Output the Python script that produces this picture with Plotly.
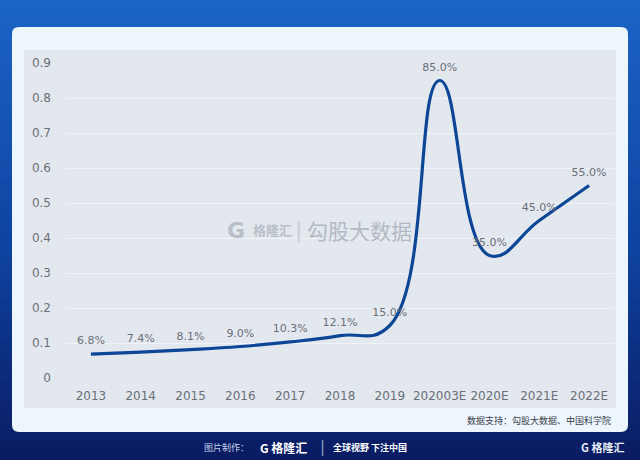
import plotly.graph_objects as go

# ---- data ----
categories = ["2013", "2014", "2015", "2016", "2017", "2018", "2019",
              "202003E", "2020E", "2021E", "2022E"]
values = [0.068, 0.074, 0.081, 0.090, 0.103, 0.121, 0.150, 0.850, 0.350, 0.450, 0.550]
value_labels = ["6.8%", "7.4%", "8.1%", "9.0%", "10.3%", "12.1%", "15.0%",
                "85.0%", "35.0%", "45.0%", "55.0%"]
y_ticks = [0, 0.1, 0.2, 0.3, 0.4, 0.5, 0.6, 0.7, 0.8, 0.9]
y_tick_text = ["0", "0.1", "0.2", "0.3", "0.4", "0.5", "0.6", "0.7", "0.8", "0.9"]

W, H = 640, 460
L, R, T, B = 66, 26, 63, 82
PW = W - L - R
PH = H - T - B


def px(x):
    return (x - L) / PW


def py(y):
    return (H - B - y) / PH


def lerp(c1, c2, t):
    return tuple(int(round(a + (b - a) * t)) for a, b in zip(c1, c2))


shapes = []
# background gradient
top_c, mid_c, bot_c = (27, 100, 198), (14, 66, 160), (10, 27, 98)
n = 46
for i in range(n):
    y0, y1 = i * H / n, (i + 1) * H / n + 0.6
    t = (i + 0.5) / n
    c = lerp(top_c, mid_c, t / 0.55) if t < 0.55 else lerp(mid_c, bot_c, (t - 0.55) / 0.45)
    shapes.append(dict(type="rect", xref="paper", yref="paper", layer="below",
                       x0=px(-1), x1=px(W + 1), y0=py(y1), y1=py(y0),
                       line=dict(width=0), fillcolor="rgb(%d,%d,%d)" % c))

# rounded panel
x0, x1, y0, y1, r = 12, 628, 27, 432, 7
rx, ry = r / PW, r / PH
X0, X1, Y0, Y1 = px(x0), px(x1), py(y1), py(y0)
path = (f"M {X0+rx},{Y1} L {X1-rx},{Y1} Q {X1},{Y1} {X1},{Y1-ry} "
        f"L {X1},{Y0+ry} Q {X1},{Y0} {X1-rx},{Y0} L {X0+rx},{Y0} "
        f"Q {X0},{Y0} {X0},{Y0+ry} L {X0},{Y1-ry} Q {X0},{Y1} {X0+rx},{Y1} Z")
shapes.append(dict(type="path", xref="paper", yref="paper", layer="below",
                   path=path, fillcolor="#edf5fd", line=dict(width=0)))
# grey plot panel
shapes.append(dict(type="rect", xref="paper", yref="paper", layer="below",
                   x0=px(24), x1=px(616), y0=py(408), y1=py(50),
                   fillcolor="#e3e8ef", line=dict(width=0)))

fig = go.Figure()
fig.add_trace(go.Scatter(
    x=categories, y=values, mode="lines+markers+text",
    line=dict(color="#0d4696", width=3.2, shape="spline", smoothing=1.3),
    marker=dict(size=10, color="rgba(0,0,0,0)"),
    text=value_labels, textposition="top center",
    textfont=dict(family="DejaVu Sans", size=11, color="#6a6f78"),
    cliponaxis=False, hoverinfo="skip", showlegend=False,
))

annotations = [
    # watermark
    dict(text="<b>G</b>", x=px(236), y=py(230), font=dict(size=22, color="#b9bfc8", family="DejaVu Sans")),
    dict(text="<b>格隆汇</b>", x=px(272), y=py(229), font=dict(size=13, color="#b9bfc8", family="Noto Sans CJK SC")),
    dict(text="|", x=px(298), y=py(230), font=dict(size=22, color="#c9ced5", family="DejaVu Sans")),
    dict(text="勾股大数据", x=px(359), y=py(230), font=dict(size=21, color="#b3b9c2", family="Noto Sans CJK SC")),
    # source
    dict(text="数据支持：勾股大数据、中国科学院", x=px(613), y=py(420), xanchor="right",
         font=dict(size=9, color="#3a3f48", family="Noto Sans CJK SC")),
    # footer
    dict(text="图片制作：", x=px(251), y=py(447), xanchor="right",
         font=dict(size=9, color="#c8d2ea", family="Noto Sans CJK SC")),
    dict(text="<b>G 格隆汇</b>", x=px(258), y=py(447), xanchor="left",
         font=dict(size=12, color="#ffffff", family="Noto Sans CJK SC")),
    dict(text="|", x=px(322), y=py(447), font=dict(size=15, color="#8f9fc8", family="DejaVu Sans")),
    dict(text="<b>全球视野 下注中国</b>", x=px(331), y=py(447), xanchor="left",
         font=dict(size=9, color="#ffffff", family="Noto Sans CJK SC")),
    dict(text="<b>G 格隆汇</b>", x=px(626), y=py(447), xanchor="right",
         font=dict(size=11, color="#e6ebf7", family="Noto Sans CJK SC")),
]
for a in annotations:
    a.update(xref="paper", yref="paper", showarrow=False)
    a.setdefault("xanchor", "center")
    a["yanchor"] = "middle"

fig.update_layout(
    width=W, height=H,
    margin=dict(l=L, r=R, t=T, b=B, pad=0),
    paper_bgcolor="#0b1d66", plot_bgcolor="rgba(0,0,0,0)",
    shapes=shapes, annotations=annotations,
    font=dict(family="DejaVu Sans", color="#6a6f78"),
    xaxis=dict(type="category", range=[-0.5, 10.5], showgrid=False, zeroline=False,
               showline=False, ticks="", tickfont=dict(size=12, color="#6a6f78"),
               ticklabelstandoff=9, fixedrange=True),
    yaxis=dict(range=[0, 0.9], tickvals=y_ticks, ticktext=y_tick_text,
               showgrid=True, gridcolor="#f0f3f7", gridwidth=1, zeroline=False,
               showline=False, ticks="", tickfont=dict(size=12, color="#6a6f78"),
               ticklabelstandoff=14, fixedrange=True),
)

fig.write_html("out.html", config={"displayModeBar": False},
               post_script="document.body.style.margin='0';document.body.style.overflow='hidden';")
